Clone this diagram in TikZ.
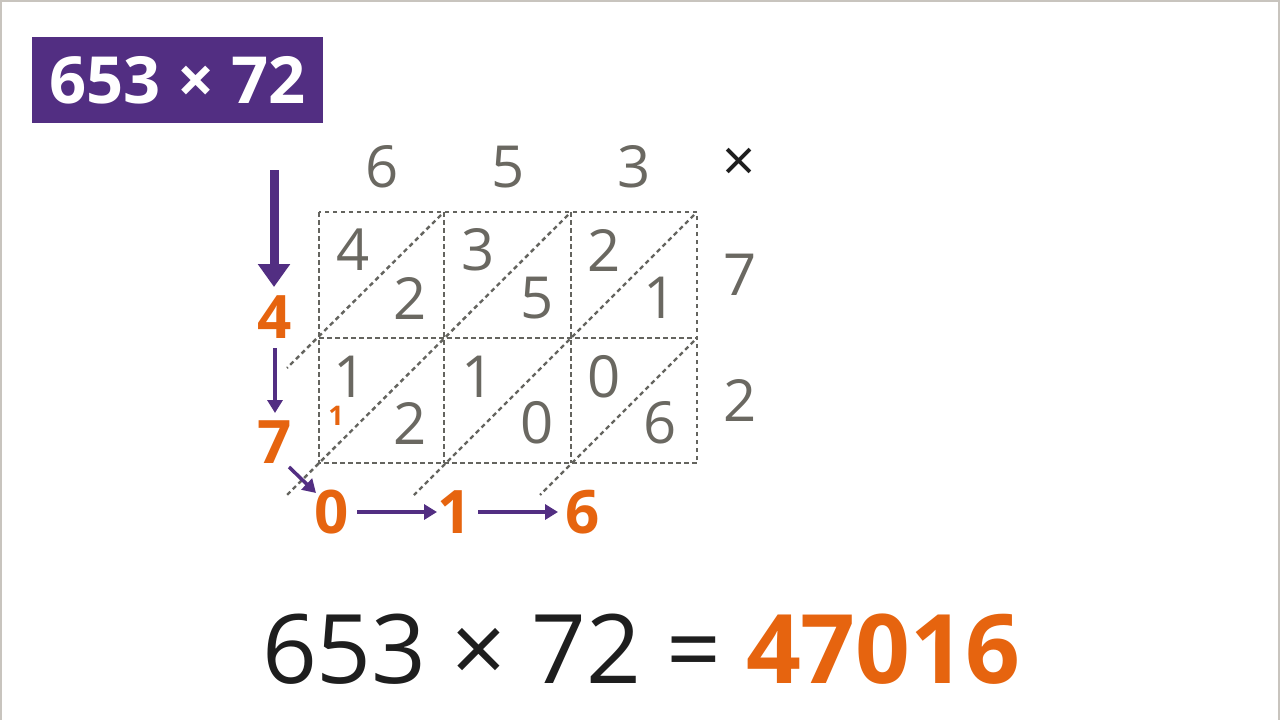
\documentclass[tikz,border=0pt]{standalone}
\usepackage{fontspec}
\setmainfont{Open Sans}
\usetikzlibrary{arrows.meta}
\definecolor{bpurple}{RGB}{82,46,130}
\definecolor{borange}{RGB}{230,100,15}
\definecolor{dgray}{RGB}{106,104,97}
\definecolor{lgray}{RGB}{100,100,95}
\definecolor{bordergray}{RGB}{200,196,190}
\definecolor{tblack}{RGB}{30,30,30}
\begin{document}
\begin{tikzpicture}[x=1pt,y=-1pt,
  digit/.style={text=dgray,font=\fontsize{58}{60}\selectfont,inner sep=0pt},
  odigit/.style={text=borange,font=\fontsize{60}{62}\selectfont\bfseries,inner sep=0pt},
  dashline/.style={draw=lgray,line width=2.4pt,dash pattern=on 4.5pt off 3.5pt},
  parrow/.style={draw=bpurple,line width=3.5pt,-{Triangle[width=15pt,length=13pt]}}]
\useasboundingbox (0,0) rectangle (1280,720);
\fill[white] (0,0) rectangle (1280,720);
\draw[bordergray,line width=2.5pt] (1,720) -- (1,1) -- (1279,1) -- (1279,720);

% title
\node[fill=bpurple,minimum width=291pt,minimum height=86pt,inner sep=0pt,
      text=white,font=\fontsize{65}{67}\selectfont\bfseries] (title) at (177.5,80) {653 × 72};

% grid
\draw[dashline] (319,212) rectangle (697,463);
\draw[dashline] (319,338) -- (697,338);
\draw[dashline] (444,212) -- (444,463);
\draw[dashline] (571,212) -- (571,463);
% diagonals
\draw[dashline] (441,215) -- (287,368);
\draw[dashline] (568,215) -- (287,495);
\draw[dashline] (694,215) -- (414,495);
\draw[dashline] (694,341) -- (540,495);

% top and right factors
\node[digit] (t6) at (382,167) {6};
\node[digit] (t5) at (508,167) {5};
\node[digit] (t3) at (634,167) {3};
\node[digit,text=tblack] (tx) at (739,165) {×};
\node[digit] (r7) at (740,275) {7};
\node[digit] (r2) at (740,400) {2};

% cell digits
\node[digit] (a1) at (353,250) {4};
\node[digit] (a2) at (410,298) {2};
\node[digit] (b1) at (478,250) {3};
\node[digit] (b2) at (537,298) {5};
\node[digit] (c1) at (604,250) {2};
\node[digit] (c2) at (660,298) {1};
\node[digit] (d1) at (350,377) {1};
\node[digit] (d2) at (410,423) {2};
\node[digit] (e1) at (478,377) {1};
\node[digit] (e2) at (537,423) {0};
\node[digit] (f1) at (604,377) {0};
\node[digit] (f2) at (660,423) {6};
\node[text=borange,font=\fontsize{27}{28}\selectfont\bfseries,inner sep=0pt] (carry) at (336,416) {1};

% orange result digits
\node[odigit] (o4) at (275,317) {4};
\node[odigit] (o7) at (275,442) {7};
\node[odigit] (z0) at (332,512) {0};
\node[odigit] (z1) at (455,512) {1};
\node[odigit] (z6) at (583,512) {6};

% arrows
\coordinate (bigstart) at (274,170);
\draw[draw=bpurple,line width=9pt,-{Triangle[width=31pt,length=23pt]}] (bigstart) -- (274,287);
\draw[parrow,shorten <=31pt,shorten >=29pt] (o4.center) -- (o7.center);
\coordinate (dgs) at (289,467);
\coordinate (dge) at (316,493);
\draw[parrow] (dgs) -- (dge);
\draw[parrow,shorten <=25pt,shorten >=18pt] (z0.center) -- (z1.center);
\draw[parrow,shorten <=23pt,shorten >=25pt] (z1.center) -- (z6.center);

% equation
\node[inner sep=0pt,text=tblack,font=\fontsize{96}{98}\selectfont] (eq) at (641,649)
  {653 × 72 = \textbf{\textcolor{borange}{47016}}};
\end{tikzpicture}
\end{document}
